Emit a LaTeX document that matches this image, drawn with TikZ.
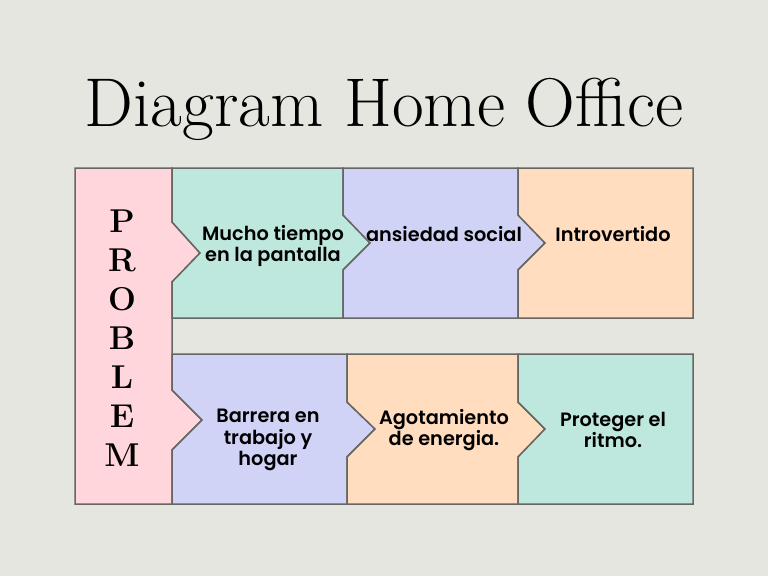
\documentclass[tikz,border=0pt]{standalone}
\usepackage{fontspec}
\newfontfamily\boxfont{Poppins SemiBold}
\definecolor{paper}{RGB}{230,230,225}
\definecolor{edgegray}{RGB}{102,102,100}
\definecolor{rose}{RGB}{255,214,220}
\definecolor{mint}{RGB}{190,232,222}
\definecolor{lavender}{RGB}{208,211,246}
\definecolor{peach}{RGB}{255,221,190}
\tikzstyle{cell} = [draw=edgegray, line width=1.5pt]
\tikzstyle{label} = [text=black, align=center, inner sep=0pt,
    font=\boxfont\fontsize{19.3}{21.5}\selectfont]
\tikzstyle{title} = [text=black, anchor=base, font=\fontsize{69}{72}\selectfont]

\begin{document}
\begin{tikzpicture}[x=1pt, y=-1pt]
    % Background
    \fill[paper] (0,0) rectangle (768,576);
    \useasboundingbox (0,0) rectangle (768,576);
    % Title
    \node [title] (title) at (384,126) {Diagram Home Office};
    % Left column
    \draw [cell, fill=rose] (75,168) -- (172,168) -- (172,222) -- (200,253) -- (172,282)
        -- (172,390) -- (202,420) -- (172,450) -- (172,504) -- (75,504) -- cycle;
    % Top row
    \draw [cell, fill=mint] (172,168) -- (343,168) -- (343,215) -- (370,243) -- (343,270)
        -- (343,318) -- (172,318) -- (172,282) -- (200,253) -- (172,222) -- cycle;
    \draw [cell, fill=lavender] (343,168) -- (518,168) -- (518,215) -- (545,243) -- (518,270)
        -- (518,318) -- (343,318) -- (343,270) -- (370,243) -- (343,215) -- cycle;
    \draw [cell, fill=peach] (518,168) -- (693,168) -- (693,318) -- (518,318)
        -- (518,270) -- (545,243) -- (518,215) -- cycle;
    % Bottom row
    \draw [cell, fill=lavender] (172,354) -- (347,354) -- (347,402) -- (375,429) -- (347,457)
        -- (347,504) -- (172,504) -- (172,450) -- (202,420) -- (172,390) -- cycle;
    \draw [cell, fill=peach] (347,354) -- (518,354) -- (518,402) -- (545,429) -- (518,457)
        -- (518,504) -- (347,504) -- (347,457) -- (375,429) -- (347,402) -- cycle;
    \draw [cell, fill=mint] (518,354) -- (693,354) -- (693,504) -- (518,504)
        -- (518,457) -- (545,429) -- (518,402) -- cycle;
    % Texts
    \node [font=\bfseries\fontsize{33}{39}\selectfont, align=center] (problem) at (122,338)
        {P\\R\\O\\B\\L\\E\\M};
    \node [label] (screen) at (273,246) {Mucho tiempo\\en la pantalla};
    \node [label] (anxiety) at (444,234) {ansiedad social};
    \node [label] (introvert) at (613,234) {Introvertido};
    \node [label] (barrier) at (268,440) {Barrera en\\trabajo y\\hogar};
    \node [label] (fatigue) at (444,430) {Agotamiento\\de energia.};
    \node [label] (rhythm) at (613,430) {Proteger el\\ritmo.};
\end{tikzpicture}
\end{document}
